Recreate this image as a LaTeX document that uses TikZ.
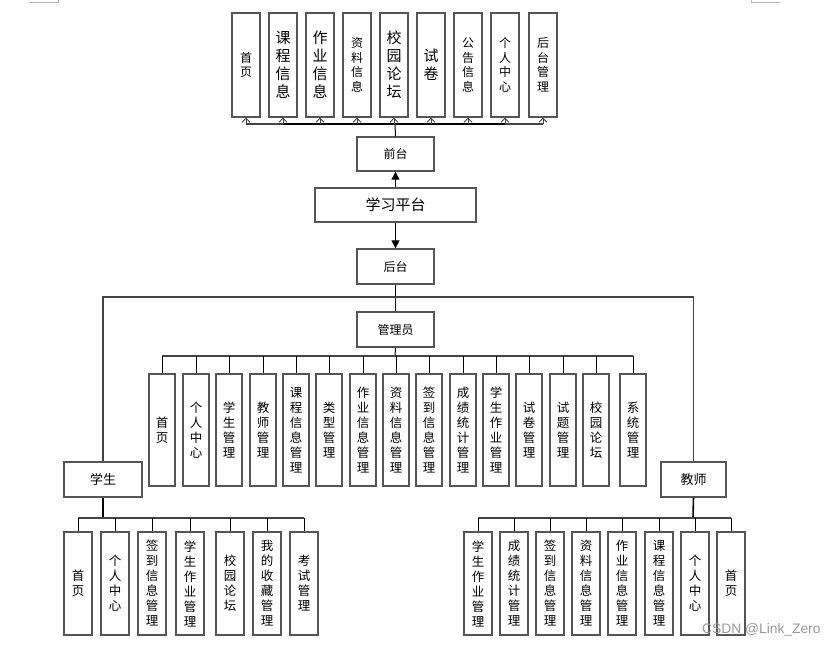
\documentclass[tikz,border=0pt]{standalone}
\usepackage{fontspec}
\setmainfont{Noto Sans CJK SC}
\newfontfamily\wmfont{Liberation Sans}
\usetikzlibrary{arrows.meta}
\definecolor{boxc}{HTML}{555555}
\definecolor{busc}{HTML}{444444}
\begin{document}
\begin{tikzpicture}[x=1pt,y=-1pt,
  box/.style={draw=boxc, line width=1.3pt, fill=white, inner sep=0pt, align=center},
  hbox/.style={box, minimum height=34pt, font=\fontsize{12}{14}\selectfont},
  topbig/.style={box, minimum width=28pt, minimum height=104pt, font=\fontsize{15}{18}\selectfont},
  topsmall/.style={box, minimum width=28pt, minimum height=104pt, font=\fontsize{12}{14.5}\selectfont},
  admbox/.style={box, minimum width=26pt, minimum height=112pt, font=\fontsize{12.5}{15}\selectfont},
  subbox/.style={box, minimum width=28pt, minimum height=103pt, font=\fontsize{12.5}{15}\selectfont},
  conn/.style={draw=black, line width=1pt},
  bus/.style={draw=busc, line width=1.2pt},
  uparr/.style={draw=busc, line width=0.9pt, -{Straight Barb[length=4pt,width=8pt]}},
  bigarr/.style={conn, -{Triangle[length=8pt,width=8pt]}}
]
\useasboundingbox (0,0) rectangle (836,645);
% corner marks
\draw[gray!60, line width=0.8pt] (30,2) -- (58,2) -- (58,0);
\draw[gray!60, line width=0.8pt] (751,0) -- (751,2) -- (780,2);

% top row
\node[topsmall] (t1) at (246,65) {首\\页};
\node[topbig]   (t2) at (283,65) {课\\程\\信\\息};
\node[topbig]   (t3) at (320,65) {作\\业\\信\\息};
\node[topsmall] (t4) at (357,65) {资\\料\\信\\息};
\node[topbig]   (t5) at (394,65) {校\\园\\论\\坛};
\node[topbig]   (t6) at (431,65) {试\\卷};
\node[topsmall] (t7) at (468,65) {公\\告\\信\\息};
\node[topsmall] (t8) at (505,65) {个\\人\\中\\心};
\node[topsmall] (t9) at (543,65) {后\\台\\管\\理};

% center column
\node[hbox, minimum width=77pt] (qiantai) at (395.5,154) {前台};
\node[box, minimum width=161pt, minimum height=34pt, font=\fontsize{15}{18}\selectfont] (platform) at (395.5,205) {学习平台};
\node[hbox, minimum width=77pt, minimum height=35pt] (houtai) at (395.5,266.5) {后台};
\node[hbox, minimum width=77pt, minimum height=35pt] (admin) at (395.5,329.5) {管理员};
\node[hbox, minimum width=78pt, minimum height=35pt, font=\fontsize{13}{15}\selectfont] (student) at (103,479.5) {学生};
\node[hbox, minimum width=65pt, minimum height=35pt, font=\fontsize{13}{15}\selectfont] (teacher) at (693.5,479.5) {教师};

% admin children
\node[admbox] (a1)  at (162,430) {首\\页};
\node[admbox] (a2)  at (196,430) {个\\人\\中\\心};
\node[admbox] (a3)  at (229,430) {学\\生\\管\\理};
\node[admbox] (a4)  at (263,430) {教\\师\\管\\理};
\node[admbox] (a5)  at (296,430) {课\\程\\信\\息\\管\\理};
\node[admbox] (a6)  at (329,430) {类\\型\\管\\理};
\node[admbox] (a7)  at (363,430) {作\\业\\信\\息\\管\\理};
\node[admbox] (a8)  at (396,430) {资\\料\\信\\息\\管\\理};
\node[admbox] (a9)  at (429,430) {签\\到\\信\\息\\管\\理};
\node[admbox] (a10) at (463,430) {成\\绩\\统\\计\\管\\理};
\node[admbox] (a11) at (496,430) {学\\生\\作\\业\\管\\理};
\node[admbox] (a12) at (529,430) {试\\卷\\管\\理};
\node[admbox] (a13) at (563,430) {试\\题\\管\\理};
\node[admbox] (a14) at (596,430) {校\\园\\论\\坛};
\node[admbox] (a15) at (633,430) {系\\统\\管\\理};

% student children
\node[subbox] (s1) at (78,583.5)  {首\\页};
\node[subbox] (s2) at (115,583.5) {个\\人\\中\\心};
\node[subbox] (s3) at (152,583.5) {签\\到\\信\\息\\管\\理};
\node[subbox] (s4) at (190,583.5) {学\\生\\作\\业\\管\\理};
\node[subbox] (s5) at (230,583.5) {校\\园\\论\\坛};
\node[subbox] (s6) at (267,583.5) {我\\的\\收\\藏\\管\\理};
\node[subbox] (s7) at (304,583.5) {考\\试\\管\\理};

% teacher children
\node[subbox] (e1) at (478,583.5) {学\\生\\作\\业\\管\\理};
\node[subbox] (e2) at (514,583.5) {成\\绩\\统\\计\\管\\理};
\node[subbox] (e3) at (550,583.5) {签\\到\\信\\息\\管\\理};
\node[subbox] (e4) at (586,583.5) {资\\料\\信\\息\\管\\理};
\node[subbox] (e5) at (622,583.5) {作\\业\\信\\息\\管\\理};
\node[subbox] (e6) at (659,583.5) {课\\程\\信\\息\\管\\理};
\node[subbox] (e7) at (695,583.5) {个\\人\\中\\心};
\node[subbox] (e8) at (731,583.5) {首\\页};

% coordinates for buses
\coordinate (tbus) at (395,124);
\coordinate (split) at (395,297);
\coordinate (abus) at (395,356);
\coordinate (sbus) at (103,518);
\coordinate (ebus) at (693,518);

% top connectors
\draw[conn] (qiantai.north) -- (tbus);
\draw[bus] (tbus -| t1) -- (tbus -| t9);
\draw[conn, line width=1.5pt] (tbus -| t2) -- (tbus -| t8);
\foreach \n in {t1,t2,t3,t4,t5,t6,t7,t8,t9}
  \draw[uparr] (tbus -| \n) -- (\n.south);

% platform arrows
\draw[bigarr] (platform.north) -- (qiantai.south);
\draw[bigarr] (platform.south) -- (houtai.north);

% houtai to admin, student, teacher
\draw[conn] (houtai.south) -- (admin.north);
\draw[bus] (student.north) -- (student.north |- split) -- (teacher.north |- split) -- (teacher.north);

% admin children
\draw[conn] (admin.south) -- (abus);
\draw[bus] (abus -| a1) -- (abus -| a15);
\foreach \n in {a1,a2,a3,a4,a5,a6,a7,a8,a9,a10,a11,a12,a13,a14,a15}
  \draw[conn] (abus -| \n) -- (\n.north);

% student children
\draw[conn, line width=1.6pt] (student.south) -- (sbus);
\draw[bus] (sbus -| s1) -- (sbus -| s7);
\foreach \n in {s1,s2,s3,s4,s5,s6,s7}
  \draw[conn] (sbus -| \n) -- (\n.north);

% teacher children
\draw[conn, line width=1.6pt] (teacher.south) -- (ebus);
\draw[bus] (ebus -| e1) -- (ebus -| e8);
\foreach \n in {e1,e2,e3,e4,e5,e6,e7,e8}
  \draw[conn] (ebus -| \n) -- (\n.north);

% watermark
\node[anchor=base west, inner sep=0pt, text=gray!80, font=\wmfont\fontsize{13.8}{16}\selectfont] (wm) at (702,633) {CSDN @Link\_Zero};
\end{tikzpicture}
\end{document}
